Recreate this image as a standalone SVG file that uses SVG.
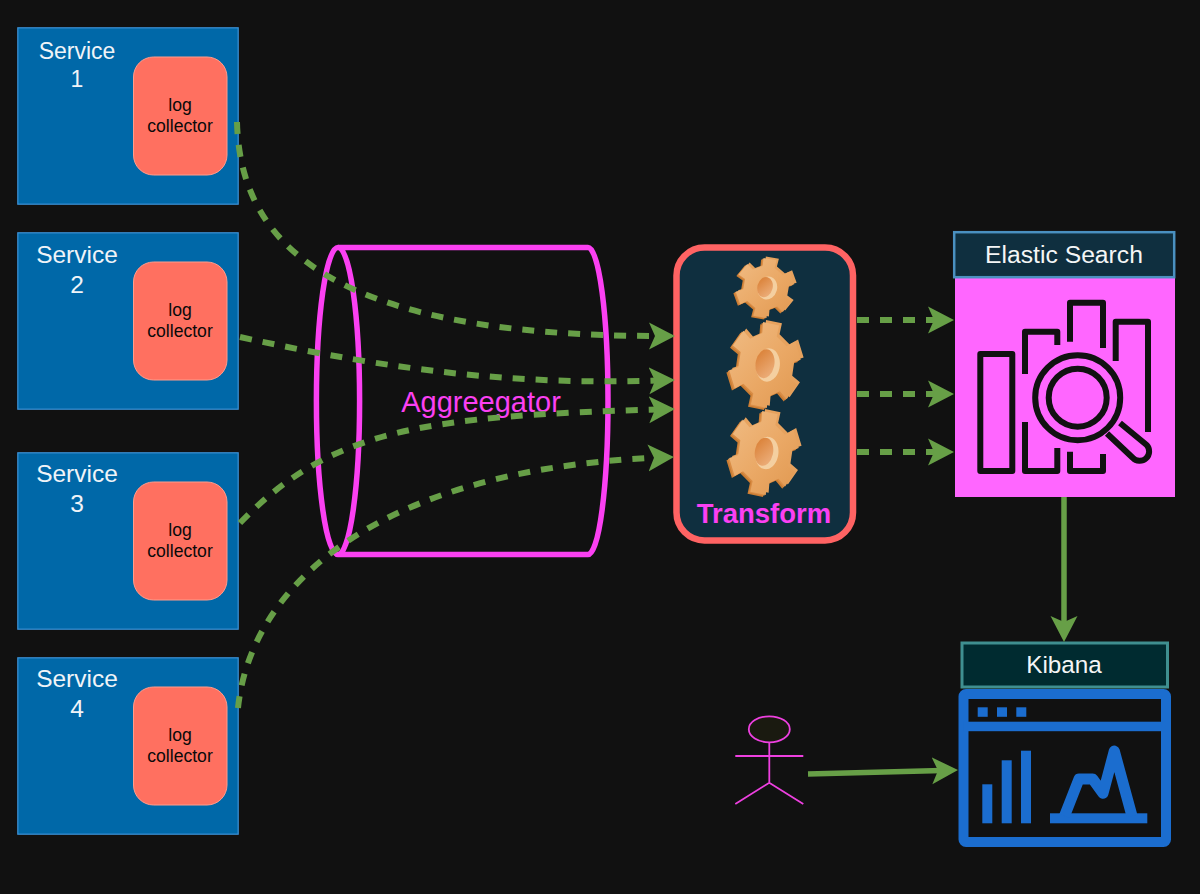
<svg xmlns="http://www.w3.org/2000/svg" xmlns:xlink="http://www.w3.org/1999/xlink" width="1200" height="894" viewBox="0 0 1200 894">
<style>
text{font-family:"Liberation Sans",Arial,sans-serif;text-anchor:middle}
.svc{fill:#0068a8;stroke:#3d93d8;stroke-width:1.2}
.col{fill:#ff7060;stroke:#ff9c8c;stroke-width:1}
.st{fill:#f0f4f8;font-size:24.500px}
.ct{fill:#0a0a0a;font-size:17.600px}
.hd{fill:#f4f6f6}
.dash{fill:none;stroke:#679f47;stroke-width:6;stroke-dasharray:12 11;marker-end:url(#ah)}
.sol{fill:none;stroke:#679f47;stroke-width:5.500;marker-end:url(#ah)}
.ic{fill:none;stroke:#111;stroke-width:6;stroke-linejoin:round}
.kb{fill:#1b6dcf}
.ac{stroke:#ee40e0;stroke-width:1.800}
</style>
<defs>
<marker id="ah" markerUnits="userSpaceOnUse" markerWidth="30" markerHeight="30" refX="10" refY="15" orient="auto" viewBox="0 0 30 30">
<path d="M0 1.500 L26 15 L0 28.500 L6 15 Z" fill="#679f47"/>
</marker>
<linearGradient id="gf" x1="0" y1="0" x2="1" y2="1">
<stop offset="0" stop-color="#f0bc84"/><stop offset="0.55" stop-color="#eaa865"/><stop offset="1" stop-color="#e09850"/>
</linearGradient>
<linearGradient id="gh" x1="0" y1="0" x2="1" y2="1">
<stop offset="0" stop-color="#d87c30"/><stop offset="1" stop-color="#efb483"/>
</linearGradient>
<path id="gp" d="M59.900 -43.500L83.900 -54.500L99.300 -12.200L73.800 -5.200L67.600 30.100L89.100 45.400L60.200 79.900L41.400 61.300L7.700 73.600L5.200 99.900L-39.100 92.100L-32.400 66.500L-59.900 43.500L-83.900 54.500L-99.300 12.200L-73.800 5.200L-67.600 -30.100L-89.100 -45.400L-60.200 -79.900L-41.400 -61.300L-7.700 -73.600L-5.200 -99.900L39.100 -92.100L32.400 -66.500Z"/>
<g id="gear">
<use xlink:href="#gp" href="#gp" transform="translate(-8 5)" fill="#cb7d33"/>
<use xlink:href="#gp" href="#gp" transform="translate(-4 2)" fill="#d98d46"/>
<use xlink:href="#gp" href="#gp" transform="translate(8 -5)" fill="#e6a25e"/>
<use xlink:href="#gp" href="#gp" fill="url(#gf)"/>
<ellipse cx="8" cy="0" rx="33" ry="39" transform="rotate(15 8 0)" fill="#f4cfa0"/>
<ellipse cx="0" cy="-3" rx="26" ry="34" transform="rotate(15 0 -3)" fill="url(#gh)"/>
</g>
</defs>
<rect width="1200" height="894" fill="#111111"/>

<g id="service-1">
<rect class="svc" x="17.800" y="27.800" width="220.400" height="176.400"/>
<text class="st" x="77" y="59" style="font-size:23px">Service</text><text class="st" x="77" y="87" style="font-size:23px">1</text>
<rect class="col" x="133.500" y="57" width="93.500" height="118" rx="20"/>
<text class="ct" x="180" y="111">log</text><text class="ct" x="180" y="132">collector</text>
</g>
<g id="service-2">
<rect class="svc" x="17.800" y="232.800" width="220.400" height="176.400"/>
<text class="st" x="77" y="263">Service</text><text class="st" x="77" y="293">2</text>
<rect class="col" x="133.500" y="262" width="93.500" height="118" rx="20"/>
<text class="ct" x="180" y="316">log</text><text class="ct" x="180" y="337">collector</text>
</g>
<g id="service-3">
<rect class="svc" x="17.800" y="452.800" width="220.400" height="176.400"/>
<text class="st" x="77" y="482">Service</text><text class="st" x="77" y="512">3</text>
<rect class="col" x="133.500" y="482" width="93.500" height="118" rx="20"/>
<text class="ct" x="180" y="536">log</text><text class="ct" x="180" y="557">collector</text>
</g>
<g id="service-4">
<rect class="svc" x="17.800" y="657.800" width="220.400" height="176.400"/>
<text class="st" x="77" y="687">Service</text><text class="st" x="77" y="717">4</text>
<rect class="col" x="133.500" y="687" width="93.500" height="118" rx="20"/>
<text class="ct" x="180" y="741">log</text><text class="ct" x="180" y="762">collector</text>
</g>

<g id="aggregator">
<path d="M338 247.500 H588 A20 153.500 0 0 1 588 554.500 H338 A21.600 153.500 0 0 1 338 247.500 A21.600 153.500 0 0 1 338 554.500" fill="none" stroke="#fb40f2" stroke-width="5.500"/>
<text x="481" y="411.500" font-size="29" fill="#fb40f2">Aggreegator</text>
</g>

<g id="transform">
<rect x="676.500" y="247.500" width="176.500" height="293" rx="28" fill="#0f2f3f" stroke="#ff6363" stroke-width="6.500"/>
<use xlink:href="#gear" href="#gear" transform="translate(765 288) scale(.295 .3)"/>
<use xlink:href="#gear" href="#gear" transform="translate(765 365) scale(.36 .43)"/>
<use xlink:href="#gear" href="#gear" transform="translate(764 453) scale(.35 .42)"/>
<text x="764" y="523" font-size="27.500" font-weight="700" fill="#fb40f2">Transform</text>
</g>

<g id="elastic-search">
<rect x="955" y="278" width="220" height="219" fill="#ff66ff"/>
<rect x="954.200" y="232.200" width="220" height="45" fill="#0f2f3f" stroke="#4a90c0" stroke-width="2.500"/>
<text class="hd" x="1064" y="263" font-size="24.700">Elastic Search</text>
<rect class="ic" x="980.300" y="354" width="32" height="117"/>
<path class="ic" d="M1025 374V331.700H1057.300V345M1025 422V471H1057.300V448M1070 341.700V302.700H1103V348M1070 451.700V471H1103V454M1115.700 361V321.700H1148V432"/>
<circle class="ic" cx="1077.700" cy="397.700" r="42.500"/>
<circle class="ic" cx="1077.700" cy="397.700" r="29"/>
<path class="ic" d="M1107 433.500L1132.700 457.700A8.900 8.900 0 0 0 1146.700 445L1120 423"/>
</g>

<g id="kibana">
<rect x="962" y="643" width="205.500" height="44" fill="#002b30" stroke="#3f8f90" stroke-width="3"/>
<text class="hd" x="1064" y="672.700" font-size="24.300">Kibana</text>
<path d="M966 689H1163.500A7.500 7.500 0 0 1 1171 696.500V839.500A7.500 7.500 0 0 1 1163.500 847H966A7.500 7.500 0 0 1 958.500 839.500V696.500A7.500 7.500 0 0 1 966 689ZM968.500 699V837H1161V699Z" fill="#1b6dcf" fill-rule="evenodd"/>
<rect class="kb" x="963.500" y="721.700" width="202.500" height="9.500"/>
<rect class="kb" x="977.700" y="707.300" width="10" height="9.500"/>
<rect class="kb" x="997" y="707.300" width="10" height="9.500"/>
<rect class="kb" x="1016.300" y="707.300" width="10" height="9.500"/>
<rect class="kb" x="982.300" y="784.300" width="10" height="39"/>
<rect class="kb" x="1001.700" y="760.300" width="10" height="63"/>
<rect class="kb" x="1021" y="750.700" width="10" height="72.600"/>
<rect class="kb" x="1050" y="813.300" width="97.300" height="10"/>
<path d="M1064.500 816L1079 779H1092.700L1103 793.300L1114.300 751L1132 816" fill="none" stroke="#1b6dcf" stroke-width="11" stroke-linejoin="round"/>
</g>

<g id="user">
<ellipse class="ac" cx="769.300" cy="729.300" rx="20.500" ry="13" fill="#1a1a10"/>
<path class="ac" fill="none" d="M769.300 742.300V782.700M735.300 756H803.300M735.300 804L769.300 782.700L803.300 804"/>
</g>

<g id="connectors">
<path class="dash" d="M237 122C240 250 340 336 659 336"/>
<path class="dash" d="M240 337C400 372 520 385 659 380.500"/>
<path class="dash" d="M240 523C330 430 420 416 659 409.500"/>
<path class="dash" d="M238 708C250 590 370 470 658 457.600"/>
<path class="dash" d="M857 320H938"/>
<path class="dash" d="M857 394H938"/>
<path class="dash" d="M857 452H938"/>
<path class="sol" d="M1064 497V626"/>
<path class="sol" d="M808 774L942 770.500"/>
</g>
</svg>
